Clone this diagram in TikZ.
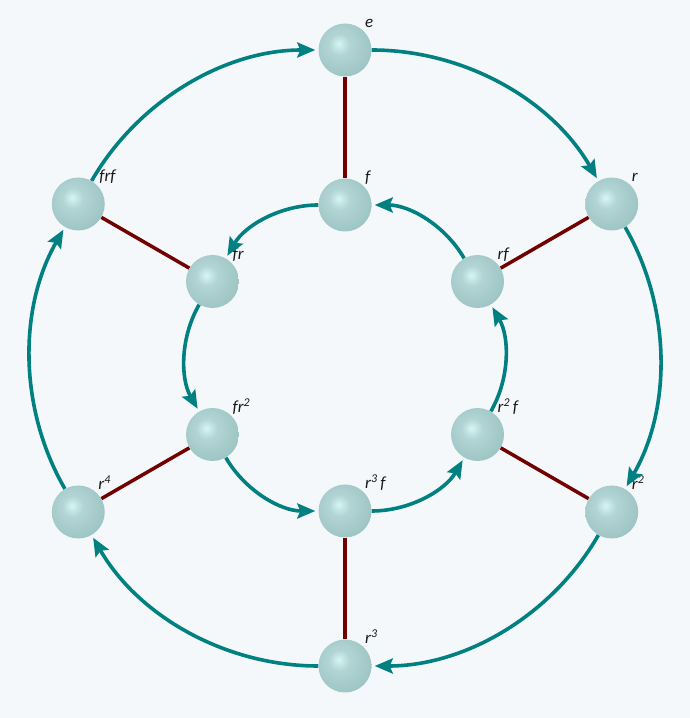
\documentclass[tikz,border=0pt]{standalone}
\usepackage{fontspec}
\setmainfont{Carlito}
\usetikzlibrary{arrows.meta,backgrounds}
\definecolor{bgc}{RGB}{245,248,250}
\definecolor{arcc}{RGB}{0,128,128}
\definecolor{spokec}{RGB}{115,0,0}
\definecolor{sphhl}{RGB}{215,245,245}
\definecolor{sphA}{RGB}{178,212,212}
\definecolor{sphB}{RGB}{152,192,192}
\definecolor{sphC}{RGB}{128,165,165}
\pgfdeclareradialshading{sphere}{\pgfpoint{-6bp}{6bp}}{%
  color(0bp)=(sphhl); color(10bp)=(sphA); color(35bp)=(sphB);
  color(58bp)=(sphC); color(80bp)=(sphC)}
\tikzset{
  ball/.style={circle,minimum size=53pt,inner sep=0pt,shading=sphere},
  lbl/.style={anchor=base west,inner sep=0pt,font=\itshape\fontsize{17}{17}\selectfont,text=black!90},
  ring/.style={draw=arcc,line width=3.6pt,shorten >=3pt,
    -{Stealth[length=18pt,width=15pt,inset=3pt]}},
  spoke/.style={draw=spokec,line width=3.5pt}
}
\begin{document}
\begin{tikzpicture}[x=1pt,y=1pt]
\useasboundingbox (0,0) rectangle (690,718);
\coordinate (O) at (345,360);
% outer ring
\node[ball] (e)   at ([shift={(90:308)}]O) {};
\node[ball] (r)   at ([shift={(30:308)}]O) {};
\node[ball] (r2)  at ([shift={(-30:308)}]O) {};
\node[ball] (r3)  at ([shift={(-90:308)}]O) {};
\node[ball] (r4)  at ([shift={(-150:308)}]O) {};
\node[ball] (frf) at ([shift={(150:308)}]O) {};
% inner ring
\node[ball] (f)   at ([shift={(90:153)}]O) {};
\node[ball] (rf)  at ([shift={(30:153)}]O) {};
\node[ball] (r2f) at ([shift={(-30:153)}]O) {};
\node[ball] (r3f) at ([shift={(-90:153)}]O) {};
\node[ball] (fr2) at ([shift={(-150:153)}]O) {};
\node[ball] (fr)  at ([shift={(150:153)}]O) {};
\begin{pgfonlayer}{background}
\fill[bgc] (0,0) rectangle (690,718);
% labels
\node[lbl] (le)   at ([shift={(20,22)}]e.center) {e};
\node[lbl] (lr)   at ([shift={(20,22)}]r.center) {r};
\node[lbl] (lr2)  at ([shift={(20,22)}]r2.center) {r\textsuperscript{2}};
\node[lbl] (lr3)  at ([shift={(20,22)}]r3.center) {r\textsuperscript{3}};
\node[lbl] (lr4)  at ([shift={(20,22)}]r4.center) {r\textsuperscript{4}};
\node[lbl] (lfrf) at ([shift={(21,22)}]frf.center) {frf};
\node[lbl] (lf)   at ([shift={(20,22)}]f.center) {f};
\node[lbl] (lrf)  at ([shift={(20,22)}]rf.center) {rf};
\node[lbl] (lr2f) at ([shift={(20,22)}]r2f.center) {r\textsuperscript{2}\,f};
\node[lbl] (lr3f) at ([shift={(20,22)}]r3f.center) {r\textsuperscript{3}\,f};
\node[lbl] (lfr2) at ([shift={(20,22)}]fr2.center) {fr\textsuperscript{2}};
\node[lbl] (lfr)  at ([shift={(20,22)}]fr.center) {fr};
% spokes
\draw[spoke] (e) -- (f);
\draw[spoke] (r) -- (rf);
\draw[spoke] (r2) -- (r2f);
\draw[spoke] (r3) -- (r3f);
\draw[spoke] (r4) -- (fr2);
\draw[spoke] (frf) -- (fr);
% outer arcs (clockwise)
\draw[ring] (e)   to[bend left=30,looseness=0.91] (r);
\draw[ring] (r)   to[bend left=30,looseness=0.91] (r2);
\draw[ring] (r2)  to[bend left=30,looseness=0.91] (r3);
\draw[ring] (r3)  to[bend left=30,looseness=0.91] (r4);
\draw[ring] (r4)  to[bend left=30,looseness=0.91] (frf);
\draw[ring] (frf) to[bend left=30,looseness=0.91] (e);
% inner arcs (counter-clockwise)
\draw[ring] (f)   to[bend right=30,looseness=0.91] (fr);
\draw[ring] (fr)  to[bend right=30,looseness=0.91] (fr2);
\draw[ring] (fr2) to[bend right=30,looseness=0.91] (r3f);
\draw[ring] (r3f) to[bend right=30,looseness=0.91] (r2f);
\draw[ring] (r2f) to[bend right=30,looseness=0.91] (rf);
\draw[ring] (rf)  to[bend right=30,looseness=0.91] (f);
\end{pgfonlayer}
\end{tikzpicture}
\end{document}
